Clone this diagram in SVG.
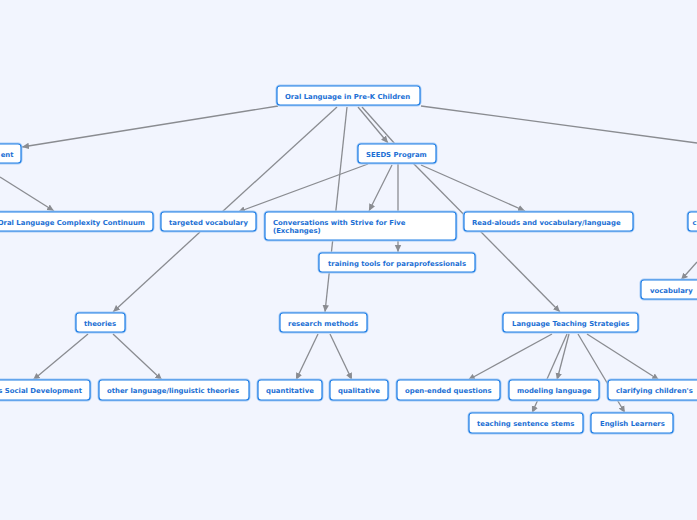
<svg xmlns="http://www.w3.org/2000/svg" width="697" height="520" viewBox="0 0 697 520">
<style>
.bg{fill:#f2f5fe}
.n rect{fill:#ffffff;stroke:#1f7ee6;stroke-width:1.2}
.n .halo{fill:none;stroke:#a9cdf5;stroke-width:3}
.n text{font-family:"DejaVu Sans","Verdana",sans-serif;font-weight:bold;font-size:6.9px;fill:#1b6fd4}
.c line{stroke:#8a8c91;stroke-width:1.3;fill:none}
.c line.a{marker-end:url(#ah)}
</style>
<defs>
<marker id="ah" markerUnits="userSpaceOnUse" markerWidth="8" markerHeight="8" refX="7" refY="4" orient="auto">
<path d="M0,0.8 L7,4 L0,7.2 Z" fill="#8a8c91"/>
</marker>
</defs>
<rect class="bg" x="0" y="0" width="697" height="520"/>
<g id="connectors" class="c">
<line class="a" x1="278" y1="106" x2="22" y2="147"/>
<line x1="421" y1="106" x2="697" y2="143"/>
<line x1="337" y1="107" x2="222" y2="212"/>
<line class="a" x1="347" y1="107" x2="325" y2="312"/>
<line class="a" x1="358" y1="107" x2="388" y2="143"/>
<line x1="362" y1="107" x2="395" y2="144"/>
<line class="a" x1="368" y1="164" x2="238" y2="212"/>
<line class="a" x1="392" y1="165" x2="369" y2="211"/>
<line class="a" x1="398" y1="163" x2="398" y2="252"/>
<line class="a" x1="421" y1="165" x2="525" y2="211"/>
<line class="a" x1="413" y1="163" x2="560" y2="312"/>
<line class="a" x1="0" y1="177" x2="54" y2="211"/>
<line class="a" x1="200" y1="232" x2="113" y2="312"/>
<line class="a" x1="88" y1="334" x2="33" y2="380"/>
<line class="a" x1="113" y1="334" x2="162" y2="380"/>
<line class="a" x1="318" y1="334" x2="296" y2="380"/>
<line class="a" x1="330" y1="334" x2="352" y2="380"/>
<line class="a" x1="552" y1="334" x2="468" y2="380"/>
<line class="a" x1="569" y1="334" x2="557" y2="380"/>
<line class="a" x1="567" y1="334" x2="532" y2="413"/>
<line class="a" x1="578" y1="334" x2="625" y2="413"/>
<line class="a" x1="587" y1="334" x2="659" y2="380"/>
<line class="a" x1="697" y1="262" x2="681" y2="280"/>
</g>
<g id="n-root" class="n"><rect class="halo" x="277" y="86" width="143" height="19" rx="3"/><rect x="277" y="86" width="143" height="19" rx="3"/><text x="285" y="98.5">Oral Language in Pre-K Children</text></g>
<g id="n-dev" class="n"><rect class="halo" x="-40" y="144" width="61" height="19" rx="3"/><rect x="-40" y="144" width="61" height="19" rx="3"/><text x="13.5" y="156.5" text-anchor="end">ent</text></g>
<g id="n-seeds" class="n"><rect class="halo" x="358" y="144" width="78" height="19" rx="3"/><rect x="358" y="144" width="78" height="19" rx="3"/><text x="366" y="156.5">SEEDS Program</text></g>
<g id="n-olcc" class="n"><rect class="halo" x="-12" y="212" width="165" height="19" rx="3"/><rect x="-12" y="212" width="165" height="19" rx="3"/><text x="145" y="224.5" text-anchor="end">Oral Language Complexity Continuum</text></g>
<g id="n-targeted" class="n"><rect class="halo" x="161" y="212" width="95" height="19" rx="3"/><rect x="161" y="212" width="95" height="19" rx="3"/><text x="169" y="224.5">targeted vocabulary</text></g>
<g id="n-conv" class="n"><rect class="halo" x="265" y="212" width="191" height="28" rx="3"/><rect x="265" y="212" width="191" height="28" rx="3"/><text x="273" y="224.5">Conversations with Strive for Five</text><text x="273" y="233">(Exchanges)</text></g>
<g id="n-read" class="n"><rect class="halo" x="464" y="212" width="169" height="19" rx="3"/><rect x="464" y="212" width="169" height="19" rx="3"/><text x="472" y="224.5">Read-alouds and vocabulary/language</text></g>
<g id="n-right" class="n"><rect class="halo" x="688" y="212" width="40" height="19" rx="3"/><rect x="688" y="212" width="40" height="19" rx="3"/><text x="692.5" y="224.5">c</text></g>
<g id="n-vocab" class="n"><rect class="halo" x="641" y="280" width="62" height="19" rx="3"/><rect x="641" y="280" width="62" height="19" rx="3"/><text x="650" y="292.5">vocabulary</text></g>
<g id="n-training" class="n"><rect class="halo" x="319" y="253" width="156" height="19" rx="3"/><rect x="319" y="253" width="156" height="19" rx="3"/><text x="328" y="265.5">training tools for paraprofessionals</text></g>
<g id="n-theories" class="n"><rect class="halo" x="76" y="313" width="49" height="19" rx="3"/><rect x="76" y="313" width="49" height="19" rx="3"/><text x="84" y="325.5">theories</text></g>
<g id="n-research" class="n"><rect class="halo" x="280" y="313" width="87" height="19" rx="3"/><rect x="280" y="313" width="87" height="19" rx="3"/><text x="288" y="325.5">research methods</text></g>
<g id="n-lts" class="n"><rect class="halo" x="503" y="313" width="135" height="19" rx="3"/><rect x="503" y="313" width="135" height="19" rx="3"/><text x="512" y="325.5">Language Teaching Strategies</text></g>
<g id="n-social" class="n"><rect class="halo" x="-20" y="380" width="110" height="20" rx="3"/><rect x="-20" y="380" width="110" height="20" rx="3"/><text x="82" y="393" text-anchor="end">s Social Development</text></g>
<g id="n-other" class="n"><rect class="halo" x="99" y="380" width="150" height="20" rx="3"/><rect x="99" y="380" width="150" height="20" rx="3"/><text x="107" y="393">other language/linguistic theories</text></g>
<g id="n-quant" class="n"><rect class="halo" x="258" y="380" width="64" height="20" rx="3"/><rect x="258" y="380" width="64" height="20" rx="3"/><text x="266" y="393">quantitative</text></g>
<g id="n-qual" class="n"><rect class="halo" x="330" y="380" width="58" height="20" rx="3"/><rect x="330" y="380" width="58" height="20" rx="3"/><text x="338" y="393">qualitative</text></g>
<g id="n-open" class="n"><rect class="halo" x="397" y="380" width="103" height="20" rx="3"/><rect x="397" y="380" width="103" height="20" rx="3"/><text x="405" y="393">open-ended questions</text></g>
<g id="n-model" class="n"><rect class="halo" x="509" y="380" width="90" height="20" rx="3"/><rect x="509" y="380" width="90" height="20" rx="3"/><text x="517" y="393">modeling language</text></g>
<g id="n-clar" class="n"><rect class="halo" x="608" y="380" width="100" height="20" rx="3"/><rect x="608" y="380" width="100" height="20" rx="3"/><text x="616" y="393">clarifying children's</text></g>
<g id="n-stems" class="n"><rect class="halo" x="469" y="413" width="114" height="20" rx="3"/><rect x="469" y="413" width="114" height="20" rx="3"/><text x="477" y="426">teaching sentence stems</text></g>
<g id="n-ell" class="n"><rect class="halo" x="591" y="413" width="82" height="20" rx="3"/><rect x="591" y="413" width="82" height="20" rx="3"/><text x="600" y="426">English Learners</text></g>
</svg>
